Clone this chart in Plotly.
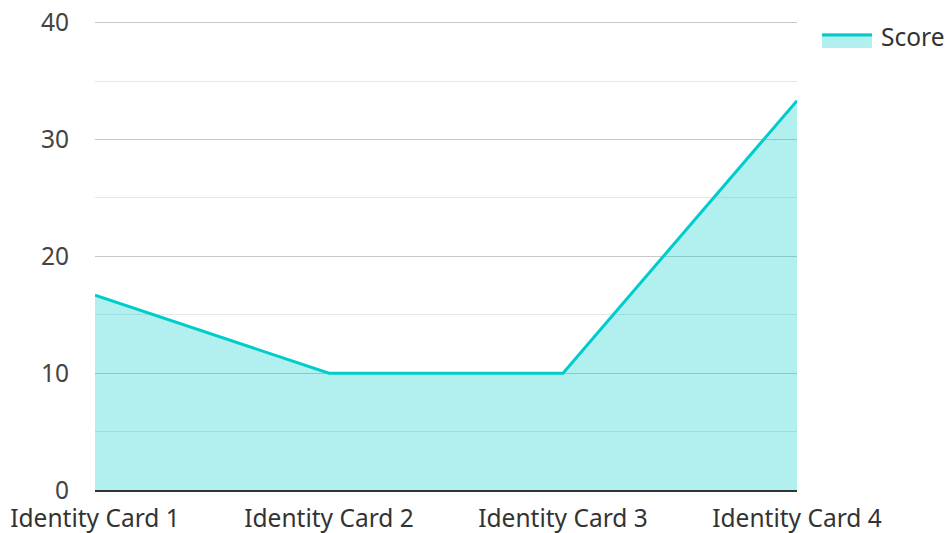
import plotly.graph_objects as go

categories = ["Identity Card 1", "Identity Card 2", "Identity Card 3", "Identity Card 4"]
scores = [16.67, 10, 10, 33.33]
series_name = "Score"

LINE = "#00cccc"
FILL = "rgba(0,204,204,0.3)"
FONT = "Noto Sans"
FS = 24.5

fig = go.Figure()
fig.add_trace(go.Scatter(
    x=list(range(len(categories))), y=scores, mode="lines", name=series_name,
    line=dict(color=LINE, width=3), fill="tozeroy", fillcolor=FILL,
    showlegend=False, hoverinfo="x+y",
))

fig.update_layout(
    width=946, height=533,
    margin=dict(l=95, r=149, t=21, b=43, autoexpand=False),
    paper_bgcolor="white", plot_bgcolor="white",
    font=dict(family=FONT, size=FS, color="#333333"),
    xaxis=dict(
        range=[0, len(categories) - 1], tickmode="array", automargin=False,
        tickvals=list(range(len(categories))), ticktext=categories,
        showgrid=False, zeroline=False, showline=True, linecolor="#333333", linewidth=2,
        ticks="", ticklabelstandoff=6, tickfont=dict(size=FS, color="#333333"),
    ),
    yaxis=dict(
        range=[0, 40.15], tick0=0, dtick=10, automargin=False,
        showgrid=True, gridcolor="#c8c8c8", gridwidth=1,
        zeroline=False, showline=False, ticks="", ticklabelstandoff=25,
        tickfont=dict(size=FS, color="#444444"),
        minor=dict(dtick=5, showgrid=True, gridcolor="#e6e6e6", gridwidth=1),
    ),
)

# legend drawn manually (paper coords: plot spans x 95..797, y 21..490)
fig.add_shape(type="rect", xref="paper", yref="paper", x0=1.0356, x1=1.1068, y0=0.9424, y1=0.9744,
              fillcolor=FILL, line=dict(width=0))
fig.add_shape(type="line", xref="paper", yref="paper", x0=1.0356, x1=1.1068, y0=0.9701, y1=0.9701,
              line=dict(color=LINE, width=3))
fig.add_annotation(xref="paper", yref="paper", x=1.1175, y=0.968, text=series_name,
                   showarrow=False, xanchor="left", yanchor="middle",
                   font=dict(family=FONT, size=FS, color="#333333"))

fig.write_html("out.html", config={"displayModeBar": False},
               post_script="document.body.style.margin='0';document.body.style.overflow='hidden';")
